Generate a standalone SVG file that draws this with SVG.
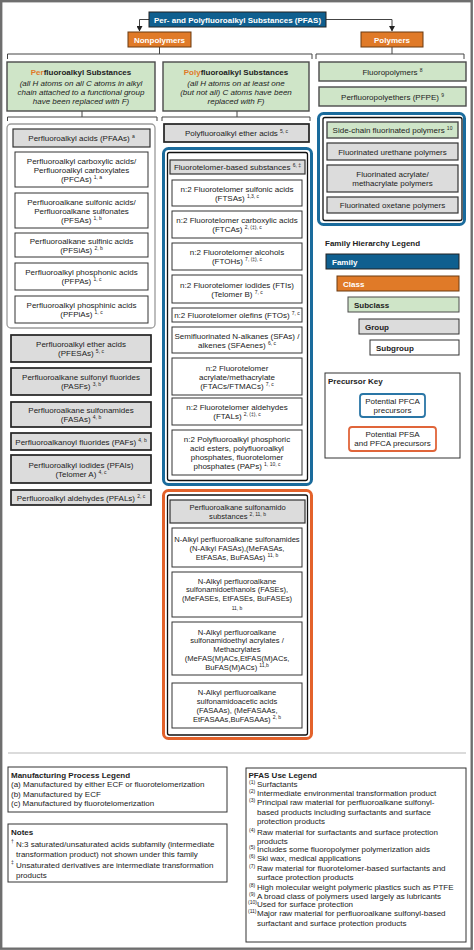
<svg xmlns="http://www.w3.org/2000/svg" width="474" height="950" viewBox="0 0 474 950">
<defs>
<marker id="arr" markerWidth="6" markerHeight="6" refX="5" refY="3" orient="auto" markerUnits="userSpaceOnUse"><path d="M0,0 L5.5,3 L0,6 z" fill="#222"/></marker>
<style>
.t{font-family:"Liberation Sans",Arial,sans-serif;font-size:8px;fill:#222;text-anchor:middle}
.o .t{font-size:7.6px}
.b{font-weight:bold}
.w{fill:#fff}
.l{text-anchor:start}
.it{font-style:italic}
.s{font-size:5px}
.o .s{font-size:5px}
.box{fill:#fff;stroke:#333;stroke-width:1}
.hdr{fill:#dcdcdc;stroke:#333;stroke-width:1.2}
.grp{fill:#dcdcdc;stroke:#222;stroke-width:1.7}
.grn{fill:#cfe5c8;stroke:#4a4a4a;stroke-width:1.4}
.fam{fill:#0f5f8f;stroke:#222;stroke-width:1}
.cls{fill:#e07a28;stroke:#6a3a10;stroke-width:1}
.con{fill:none;stroke:#444;stroke-width:1}
.cb{fill:#fff;stroke:#1a6b9c;stroke-width:3}
.co{fill:#fff;stroke:#e3622b;stroke-width:3}
.inn{fill:none;stroke:#111;stroke-width:1.3}
.leg{fill:#fff;stroke:#333;stroke-width:1}
.or{fill:#e07a28}
</style>
</defs>
<rect x="0" y="0" width="474" height="950" fill="#fff"/>
<rect x="1.2" y="1.2" width="470.5" height="947.5" fill="none" stroke="#6e6e6e" stroke-width="2.4"/>

<g id="connectors">
<path class="con" d="M149,19.5 H139.5 V31" marker-end="url(#arr)"/>
<path class="con" d="M326,19.5 H392 V31" marker-end="url(#arr)"/>
<path class="con" d="M159.5,47 V54"/>
<path class="con" d="M7.5,59 V54 H312 V59"/>
<path class="con" d="M392,47 V54"/>
<path class="con" d="M316,59 V54 H464 V59"/>
<path class="con" d="M82,111 V117"/>
<path class="con" d="M7.5,121 V117 H157 V121"/>
<path class="con" d="M237,111 V117"/>
<path class="con" d="M162,121 V117 H310 V121"/>
</g>

<g id="pfas"><rect class="fam" x="149" y="12" width="177" height="15"/><text class="t b w" x="237.5" y="22.8">Per- and Polyfluoroalkyl Substances (PFAS)</text></g>
<g id="nonpolymers"><rect class="cls" x="128" y="32" width="63" height="15"/><text class="t b w" x="159.5" y="42.8">Nonpolymers</text></g>
<g id="polymers"><rect class="cls" x="361" y="32" width="62" height="15"/><text class="t b w" x="392" y="42.8">Polymers</text></g>

<g id="perfluoroalkyl">
<rect class="grn" x="7" y="62" width="148" height="49"/>
<text class="t b" x="81" y="75"><tspan class="or">Per</tspan>fluoroalkyl Substances</text>
<text class="t it" x="81" y="85.5">(all H atoms on all C atoms in alkyl</text>
<text class="t it" x="81" y="94.8">chain attached to a functional group</text>
<text class="t it" x="81" y="104">have been replaced with F)</text>
</g>
<g id="polyfluoroalkyl">
<rect class="grn" x="163" y="62" width="146" height="49"/>
<text class="t b" x="236" y="75"><tspan class="or">Poly</tspan>fluoroalkyl Substances</text>
<text class="t it" x="236" y="85.5">(all H atoms on at least one</text>
<text class="t it" x="236" y="94.8">(but not all) C atoms have been</text>
<text class="t it" x="236" y="104">replaced with F)</text>
</g>
<g id="fluoropolymers"><rect class="grn" x="319" y="62" width="147" height="19"/><text class="t" x="392.5" y="74.5">Fluoropolymers <tspan class="s" dy="-3">8</tspan></text></g>
<g id="pfpe"><rect class="grn" x="319" y="87" width="147" height="19"/><text class="t" x="392.5" y="99.5">Perfluoropolyethers (PFPE) <tspan class="s" dy="-3">9</tspan></text></g>

<g id="pfaa-container"><rect x="7" y="124" width="148" height="204" rx="4" fill="#fff" stroke="#9a9a9a" stroke-width="1.3"/></g>
<g id="pfaas"><rect class="hdr" x="13" y="129" width="137" height="18"/><text class="t" x="81.5" y="141">Perfluoroalkyl acids (PFAAs) <tspan class="s" dy="-3">a</tspan></text></g>
<g id="pfcas"><rect class="box" x="15" y="152" width="133" height="35"/>
<text class="t" x="81.5" y="163.5">Perfluoroalkyl carboxylic acids/</text>
<text class="t" x="81.5" y="172.5">Perfluoroalkyl carboxylates</text>
<text class="t" x="81.5" y="181.5">(PFCAs) <tspan class="s" dy="-3">1, a</tspan></text></g>
<g id="pfsas"><rect class="box" x="15" y="193" width="133" height="35"/>
<text class="t" x="81.5" y="204.5">Perfluoroalkane sulfonic acids/</text>
<text class="t" x="81.5" y="213.5">Perfluoroalkane sulfonates</text>
<text class="t" x="81.5" y="222.5">(PFSAs) <tspan class="s" dy="-3">1, b</tspan></text></g>
<g id="pfsias"><rect class="box" x="15" y="233" width="133" height="24"/>
<text class="t" x="81.5" y="243.5">Perfluoroalkane sulfinic acids</text>
<text class="t" x="81.5" y="252.5">(PFSiAs) <tspan class="s" dy="-3">2, b</tspan></text></g>
<g id="pfpas"><rect class="box" x="15" y="263" width="133" height="27"/>
<text class="t" x="81.5" y="275">Perfluoroalkyl phosphonic acids</text>
<text class="t" x="81.5" y="284">(PFPAs) <tspan class="s" dy="-3">1, c</tspan></text></g>
<g id="pfpias"><rect class="box" x="15" y="296" width="133" height="27"/>
<text class="t" x="81.5" y="308">Perfluoroalkyl phosphinic acids</text>
<text class="t" x="81.5" y="317">(PFPiAs) <tspan class="s" dy="-3">1, c</tspan></text></g>

<g id="pfesas"><rect class="grp" x="11" y="335" width="140" height="27"/>
<text class="t" x="81" y="347">Perfluoroalkyl ether acids</text>
<text class="t" x="81" y="356">(PFESAs) <tspan class="s" dy="-3">5, c</tspan></text></g>
<g id="pasfs"><rect class="grp" x="11" y="368" width="140" height="27"/>
<text class="t" x="81" y="380">Perfluoroalkane sulfonyl fluorides</text>
<text class="t" x="81" y="389">(PASFs) <tspan class="s" dy="-3">3, b</tspan></text></g>
<g id="fasas"><rect class="grp" x="11" y="402" width="140" height="25"/>
<text class="t" x="81" y="413">Perfluoroalkane sulfonamides</text>
<text class="t" x="81" y="422">(FASAs) <tspan class="s" dy="-3">4, b</tspan></text></g>
<g id="pafs"><rect class="grp" x="11" y="433" width="140" height="17"/>
<text class="t" x="81" y="444.5">Perfluoroalkanoyl fluorides (PAFs) <tspan class="s" dy="-3">4, b</tspan></text></g>
<g id="pfais"><rect class="grp" x="11" y="455" width="140" height="28"/>
<text class="t" x="81" y="467.5">Perfluoroalkyl iodides (PFAIs)</text>
<text class="t" x="81" y="476.5">(Telomer A) <tspan class="s" dy="-3">4, c</tspan></text></g>
<g id="pfals"><rect class="grp" x="11" y="490" width="140" height="15"/>
<text class="t" x="81" y="500.5">Perfluoroalkyl aldehydes (PFALs) <tspan class="s" dy="-3">2, c</tspan></text></g>

<g id="poly-ether"><rect class="grp" x="164" y="124" width="145" height="18"/><text class="t" x="236.5" y="136">Polyfluoroalkyl ether acids <tspan class="s" dy="-3">5, c</tspan></text></g>

<g id="fluorotelomer-container">
<rect class="cb" x="163.5" y="148.5" width="148" height="336" rx="5"/>
<rect class="inn" x="167.5" y="152.5" width="140" height="328" rx="2"/>
</g>
<g id="ft-based"><rect class="hdr" x="170" y="160" width="135" height="14"/><text class="t" x="237.5" y="170">Fluorotelomer-based substances <tspan class="s" dy="-3">6, ‡</tspan></text></g>
<g id="ftsas"><rect class="box" x="172" y="180" width="130" height="26"/>
<text class="t" x="237" y="191.5">n:2 Fluorotelomer sulfonic acids</text>
<text class="t" x="237" y="200.5">(FTSAs) <tspan class="s" dy="-3">1,3, c</tspan></text></g>
<g id="ftcas"><rect class="box" x="172" y="211" width="130" height="27"/>
<text class="t" x="237" y="223">n:2 Fluorotelomer carboxylic acids</text>
<text class="t" x="237" y="232">(FTCAs) <tspan class="s" dy="-3">2, (‡), c</tspan></text></g>
<g id="ftohs"><rect class="box" x="172" y="243" width="130" height="27"/>
<text class="t" x="237" y="255">n:2 Fluorotelomer alcohols</text>
<text class="t" x="237" y="264">(FTOHs) <tspan class="s" dy="-3">7, (‡), c</tspan></text></g>
<g id="ftis"><rect class="box" x="172" y="275" width="130" height="28"/>
<text class="t" x="237" y="287.5">n:2 Fluorotelomer iodides (FTIs)</text>
<text class="t" x="237" y="296.5">(Telomer B) <tspan class="s" dy="-3">7, c</tspan></text></g>
<g id="ftos"><rect class="box" x="172" y="308" width="130" height="14"/>
<text class="t" x="237" y="318">n:2 Fluorotelomer olefins (FTOs) <tspan class="s" dy="-3">7, c</tspan></text></g>
<g id="sfas"><rect class="box" x="172" y="327" width="130" height="26"/>
<text class="t" x="237" y="338.5">Semifluorinated N-alkanes (SFAs) /</text>
<text class="t" x="237" y="347.5">alkenes (SFAenes) <tspan class="s" dy="-3">6, c</tspan></text></g>
<g id="ftacs"><rect class="box" x="172" y="358" width="130" height="37"/>
<text class="t" x="237" y="370.5">n:2 Fluorotelomer</text>
<text class="t" x="237" y="379.5">acrylate/methacrylate</text>
<text class="t" x="237" y="388.5">(FTACs/FTMACs) <tspan class="s" dy="-3">7, c</tspan></text></g>
<g id="ftals"><rect class="box" x="172" y="398" width="130" height="27"/>
<text class="t" x="237" y="410">n:2 Fluorotelomer aldehydes</text>
<text class="t" x="237" y="419">(FTALs) <tspan class="s" dy="-3">2, (‡), c</tspan></text></g>
<g id="paps"><rect class="box" x="172" y="430" width="130" height="45"/>
<text class="t" x="237" y="442">n:2 Polyfluoroalkyl phosphoric</text>
<text class="t" x="237" y="451">acid esters, polyfluoroalkyl</text>
<text class="t" x="237" y="460">phosphates, fluorotelomer</text>
<text class="t" x="237" y="469">phosphates (PAPs) <tspan class="s" dy="-3">1, 10, c</tspan></text></g>

<g id="sulfonamido-container">
<rect class="co" x="163.5" y="490.5" width="148" height="248" rx="5"/>
<rect class="inn" x="167.5" y="495" width="140" height="240" rx="2"/>
</g>
<g class="o">
<g id="sulfonamido"><rect class="hdr" x="170" y="500" width="135" height="23"/>
<text class="t" x="237.5" y="510">Perfluoroalkane sulfonamido</text>
<text class="t" x="237.5" y="519">substances <tspan class="s" dy="-3">2, 11, b</tspan></text></g>
<g id="n-alkyl-fasas"><rect class="box" x="172" y="528" width="130" height="39"/>
<text class="t" x="237" y="541.5">N-Alkyl perfluoroalkane sulfonamides</text>
<text class="t" x="237" y="550.5">(N-Alkyl FASAs),(MeFASAs,</text>
<text class="t" x="237" y="559.5">EtFASAs, BuFASAs) <tspan class="s" dy="-3">11, b</tspan></text></g>
<g id="fases"><rect class="box" x="172" y="572" width="130" height="45"/>
<text class="t" x="237" y="583.5">N-Alkyl perfluoroalkane</text>
<text class="t" x="237" y="592.3">sulfonamidoethanols (FASEs),</text>
<text class="t" x="237" y="601.1">(MeFASEs, EtFASEs, BuFASEs)</text>
<text class="t s" x="237" y="609.5">11, b</text></g>
<g id="fasmacs"><rect class="box" x="172" y="622" width="130" height="53"/>
<text class="t" x="237" y="634.5">N-Alkyl perfluoroalkane</text>
<text class="t" x="237" y="643.3">sulfonamidoethyl acrylates /</text>
<text class="t" x="237" y="652.1">Methacrylates</text>
<text class="t" x="237" y="660.9">(MeFAS(M)ACs,EtFAS(M)ACs,</text>
<text class="t" x="237" y="669.7">BuFAS(M)ACs) <tspan class="s" dy="-3">11,b</tspan></text></g>
<g id="fasaas"><rect class="box" x="172" y="683" width="130" height="45"/>
<text class="t" x="237" y="695">N-Alkyl perfluoroalkane</text>
<text class="t" x="237" y="704">sulfonamidoacetic acids</text>
<text class="t" x="237" y="713">(FASAAs), (MeFASAAs,</text>
<text class="t" x="237" y="722">EtFASAAs,BuFASAAs) <tspan class="s" dy="-3">2, b</tspan></text></g>
</g>

<g id="sidechain-container">
<rect class="cb" x="318.5" y="113.5" width="146" height="111" rx="5"/>
<rect class="inn" x="323" y="117.5" width="139" height="103" rx="2"/>
</g>
<g id="sidechain"><rect class="grn" x="327" y="122" width="131" height="16"/><text class="t" x="392.5" y="133">Side-chain fluorinated polymers <tspan class="s" dy="-3">10</tspan></text></g>
<g id="urethane"><rect class="hdr" x="327" y="143" width="131" height="17"/><text class="t" x="392.5" y="154.5">Fluorinated urethane  polymers</text></g>
<g id="acrylate"><rect class="hdr" x="327" y="165" width="131" height="27"/>
<text class="t" x="392.5" y="177">Fluorinated acrylate/</text>
<text class="t" x="392.5" y="186">methacrylate polymers</text></g>
<g id="oxetane"><rect class="hdr" x="327" y="197" width="131" height="16"/><text class="t" x="392.5" y="208">Fluorinated oxetane  polymers</text></g>

<g id="hierarchy-legend">
<text class="t b l" x="325" y="246">Family Hierarchy Legend</text>
<rect class="fam" x="326" y="254" width="133" height="15"/><text class="t b l w" x="332" y="264.5">Family</text>
<rect class="cls" x="337" y="276" width="122" height="15"/><text class="t b l w" x="343" y="286.5">Class</text>
<rect class="grn" x="348" y="297" width="111" height="15" style="stroke-width:1"/><text class="t b l" x="354" y="307.5">Subclass</text>
<rect class="hdr" x="359" y="319" width="100" height="15" style="stroke-width:1"/><text class="t b l" x="365" y="329.5">Group</text>
<rect class="box" x="370" y="340" width="89" height="15"/><text class="t b l" x="376" y="350.5">Subgroup</text>
</g>

<g id="precursor-key">
<rect class="leg" x="325" y="373" width="135" height="85"/>
<text class="t b l" x="328" y="384">Precursor Key</text>
<rect x="360" y="394" width="65" height="23" rx="3" fill="#fff" stroke="#2a76a6" stroke-width="1.8"/>
<text class="t" x="392.5" y="403.5">Potential PFCA</text>
<text class="t" x="392.5" y="412.5">precursors</text>
<rect x="349" y="427" width="87" height="24" rx="3" fill="#fff" stroke="#e0653a" stroke-width="1.8"/>
<text class="t" x="392.5" y="437">Potential PFSA</text>
<text class="t" x="392.5" y="446">and PFCA precursors</text>
</g>

<line x1="8" y1="753" x2="466" y2="753" stroke="#cfcfcf" stroke-width="1.5"/>

<g id="manufacturing-legend">
<rect class="leg" x="8" y="767" width="219" height="45"/>
<text class="t b l" x="11" y="778">Manufacturing Process Legend</text>
<text class="t l" x="11" y="787">(a) Manufactured by either ECF or fluorotelomerization</text>
<text class="t l" x="11" y="796.5">(b) Manufactured by ECF</text>
<text class="t l" x="11" y="806">(c) Manufactured by fluorotelomerization</text>
</g>
<g id="notes">
<rect class="leg" x="8" y="824" width="219" height="58"/>
<text class="t b l" x="11" y="835">Notes</text>
<text class="t l s" x="11" y="843">†</text>
<text class="t l" x="16" y="847">N:3 saturated/unsaturated acids subfamily (intermediate</text>
<text class="t l" x="16" y="856.5">transformation product) not shown under this family</text>
<text class="t l s" x="11" y="864">‡</text>
<text class="t l" x="16" y="868">Unsaturated derivatives are intermediate transformation</text>
<text class="t l" x="16" y="877.5">products</text>
</g>
<g id="use-legend">
<rect class="leg" x="246" y="768" width="220" height="174"/>
<text class="t b l" x="248.5" y="778">PFAS Use Legend</text>
<text class="t l s" x="249" y="784">(1)</text><text class="t l" x="257" y="787">Surfactants</text>
<text class="t l s" x="249" y="793">(2)</text><text class="t l" x="257" y="796.3">Intermediate environmental transformation  product</text>
<text class="t l s" x="249" y="802">(3)</text><text class="t l" x="257" y="805.3">Principal raw material for perfluoroalkane sulfonyl-</text>
<text class="t l" x="257" y="814.5">based products including surfactants and surface</text>
<text class="t l" x="257" y="824">protection products</text>
<text class="t l s" x="249" y="831.5">(4)</text><text class="t l" x="257" y="834.7">Raw material for surfactants and surface protection</text>
<text class="t l" x="257" y="843.5">products</text>
<text class="t l s" x="249" y="849">(5)</text><text class="t l" x="257" y="852.3">Includes some fluoropolymer polymerization aids</text>
<text class="t l s" x="249" y="858">(6)</text><text class="t l" x="257" y="861.3">Ski wax, medical applications</text>
<text class="t l s" x="249" y="868">(7)</text><text class="t l" x="257" y="871.3">Raw material for fluorotelomer-based surfactants and</text>
<text class="t l" x="257" y="880.3">surface protection products</text>
<text class="t l s" x="249" y="886.5">(8)</text><text class="t l" x="257" y="889.7">High molecular weight polymeric plastics such as PTFE</text>
<text class="t l s" x="249" y="895.5">(9)</text><text class="t l" x="257" y="898.7">A broad class of polymers used largely as lubricants</text>
<text class="t l s" x="248" y="904">(10)</text><text class="t l" x="257" y="907.3">Used for surface protection</text>
<text class="t l s" x="248" y="913">(11)</text><text class="t l" x="257" y="916.3">Major raw material for perfluoroalkane sulfonyl-based</text>
<text class="t l" x="257" y="925.7">surfactant and surface protection products</text>
</g>
</svg>
